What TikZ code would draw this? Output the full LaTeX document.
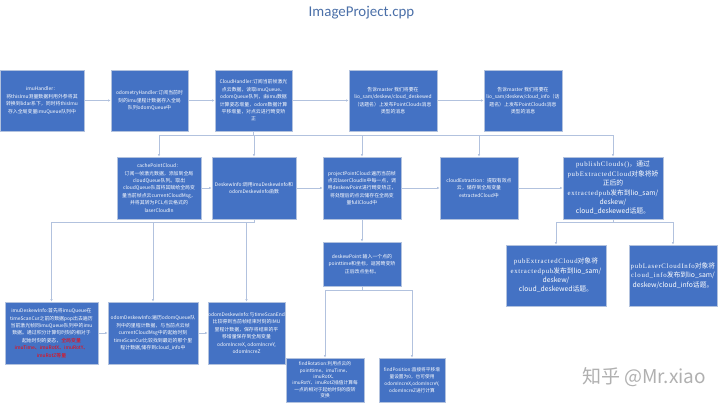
\documentclass[tikz,border=0pt]{standalone}
\usepackage{fontspec}
\setmainfont{Carlito}
\newfontfamily\cjk{Noto Sans CJK SC}
\newfontfamily\serifpart[LetterSpace=10]{Liberation Serif}
\usetikzlibrary{arrows.meta}
\definecolor{boxblue}{HTML}{4472C4}
\definecolor{edgeblue}{HTML}{B2C2DE}
\definecolor{titleblue}{HTML}{4A6FA8}
\definecolor{markgray}{HTML}{B0B0B0}
\newcommand{\ser}[1]{{\serifpart #1}}

\tikzset{
  infobox/.style={draw=edgeblue, line width=0.7pt, fill=boxblue, text=white, align=center, inner sep=0pt,
    font=\fontsize{4.9}{7.4}\selectfont\cjk},
  pubbox/.style={infobox, font=\fontsize{6.8}{9.4}\selectfont\cjk},
  link/.style={draw=edgeblue, line width=0.8pt},
  linkto/.style={link, -{Latex[length=2.5pt,width=2.5pt]}},
}

\begin{document}
\begin{tikzpicture}[x=1pt,y=-1pt]
  \useasboundingbox (0,0) rectangle (720,404);
  \node [text=titleblue, font=\fontsize{14.9}{18}\selectfont] (title) at (361.5,13) {ImageProject.cpp};

  % top row
  \node [infobox, minimum width=84pt, minimum height=61pt] (imuhandler) at (42,100.5)
    {imuHandler：\\将thisImu测量数据利用外参将其\\转换到lidar系下，同时将thisImu\\存入全局变量imuQueue队列中};
  \node [infobox, minimum width=77pt, minimum height=61pt] (odomhandler) at (149.5,100.5)
    {odometryHandler:订阅当前时\\刻的imu里程计数据存入全局\\队列odomQueue中};
  \node [infobox, minimum width=77pt, minimum height=61pt] (cloudhandler) at (253.5,100.5)
    {CloudHandler:订阅当前帧激光\\点云数据，读取imuQueue、\\odomQueue队列，由imu数据\\计算姿态增量，odom数据计算\\平移增量，对点云进行畸变矫\\正};
  \node [infobox, minimum width=88pt, minimum height=61pt] (masterdeskew) at (393,100.5)
    {告诉master 我们将要在\\lio\_sam/deskew/cloud\_deskewed\\（话题名）上发布PointClouds消息\\类型的消息};
  \node [infobox, minimum width=78pt, minimum height=61pt] (masterinfo) at (523,100.5)
    {告诉master 我们将要在\\lio\_sam/deskew/cloud\_info（话\\题名）上发布PointClouds消息\\类型的消息};

  % second row
  \node [infobox, minimum width=84pt, minimum height=62pt] (cache) at (159,188)
    {cachePointCloud：\\订阅一帧激光数据，添加到全局\\cloudQueue队列。取出\\cloudQueue队首将其赋给全局变\\量当前帧点云currentCloudMsg，\\并将其转为PCL点云格式的\\laserCloudIn};
  \node [infobox, minimum width=84pt, minimum height=62pt] (deskewinfo) at (254,188)
    {DeskewInfo:调用imuDeskewInfo和\\odomDeskewInfo函数};
  \node [infobox, minimum width=78pt, minimum height=62pt] (project) at (362,188)
    {projectPointCloud:遍历当前帧\\点云laserCloudIn中每一点，调\\用deskewPoint进行畸变矫正，\\将处理后的点云储存在全局变\\量fullCloud中};
  \node [infobox, minimum width=78pt, minimum height=62pt] (extraction) at (479,188)
    {cloudExtraction：提取有效点\\云，储存到全局变量\\extractedCloud中};
  \node [pubbox, minimum width=100pt, minimum height=62pt] (publish) at (613,188)
    {\ser{publishClouds()}，通过\\\ser{pubExtractedCloud}对象将矫\\正后的\\\ser{extractedpub}发布到lio\_sam/\\deskew/\\cloud\_deskewed话题。};
  \node [pubbox, minimum width=100pt, minimum height=61pt] (pubextracted) at (556,275.5)
    {\ser{pubExtractedCloud}对象将\\\ser{extractedpub}发布到lio\_sam/\\deskew/\\cloud\_deskewed话题。};
  \node [pubbox, minimum width=88pt, minimum height=61pt] (publaser) at (673,275.5)
    {\ser{pubLaserCloudInfo}对象将\\\ser{cloud\_info}发布到lio\_sam/\\deskew/cloud\_info话题。};

  % deskew branch
  \node [infobox, minimum width=78pt, minimum height=44pt] (deskewpoint) at (362,264)
    {deskewPoint:输入一个点的\\pointtime和坐标，返回畸变矫\\正后改点坐标。};
  \node [infobox, minimum width=78pt, minimum height=44pt, font=\fontsize{4.7}{6.4}\selectfont\cjk] (findrotation) at (325,380)
    {findRotation:利用点云的\\pointtime、imuTime、\\imuRotX、\\imuRotY、imuRotZ插值计算每\\一点的相对于起始时刻的旋转\\变换};
  \node [infobox, minimum width=66pt, minimum height=44pt, font=\fontsize{4.7}{7}\selectfont\cjk] (findposition) at (412,380)
    {findPosition:直接将平移增\\量设置为0，也可使用\\odomIncreX,odomIncreY,\\odomIncreZ进行计算};

  % bottom row
  \node [infobox, minimum width=93pt, minimum height=62pt] (imudeskew) at (51.5,333)
    {imuDeskewInfo:首先将imuQueue在\\timeScanCur之前的数据pop出去遍历\\当前激光帧同imuQueue队列中的imu\\数据。通过积分计算旬时刻的相对于\\起始时刻的姿态，\textcolor{red}{全局变量}\\\textcolor{red}{imuTime、imuRotX、imuRotY、}\\\textcolor{red}{imuRotZ等量}};
  \node [infobox, minimum width=90pt, minimum height=62pt] (odomdeskew) at (153,333)
    {odomDeskewInfo:遍历odomQueue队\\列中的里程计数据，与当前点云帧\\currentCloudMsg中的起始时刻\\timeScanCur比较找到最近的那个里\\程计数据,储存到cloud\_info中};
  \node [infobox, minimum width=77pt, minimum height=62pt] (odomend) at (246.5,333)
    {odomDeskewInfo:与timeScanEnd\\比较得到当前帧结束时刻的IMU\\里程计数据，保存将结束的平\\移增量保存到全局变量\\odomIncreX, odomIncreY,\\odomIncreZ};

  \node [text=markgray, font=\fontsize{19}{22}\selectfont\cjk] (mark) at (644,377) {知乎 @Mr.xiao};

  \draw [linkto] (imuhandler) -- (odomhandler);
  \draw [linkto] (odomhandler) -- (cloudhandler);
  \draw [linkto] (cloudhandler) -- (masterdeskew);
  \draw [linkto] (masterdeskew) -- (masterinfo);
  \draw [linkto] (cache) -- (deskewinfo);
  \draw [linkto] (deskewinfo) -- (project);
  \draw [linkto] (project) -- (extraction);
  \draw [linkto] (extraction) -- (publish);
  \draw [linkto] (imudeskew) -- (odomdeskew);
  \draw [linkto] (odomdeskew) -- (odomend);
  \draw [linkto] (project) -- (deskewpoint);

  \foreach \child in {cache,deskewinfo,project,extraction,publish} {
    \draw [linkto] (cloudhandler.south) -- ++(0,4.5) -| (\child.north);
  }
  \foreach \child in {imudeskew,odomdeskew,odomend} {
    \draw [linkto] (deskewinfo.south) -- ++(0,3) -| (\child.north);
  }
  \foreach \child in {findrotation,findposition} {
    \draw [linkto] (deskewpoint.south) -- ++(0,4) -| (\child.north);
  }
  \foreach \child in {pubextracted,publaser} {
    \draw [linkto] (publish.south) -- ++(0,3.5) -| (\child.north);
  }
\end{tikzpicture}
\end{document}
